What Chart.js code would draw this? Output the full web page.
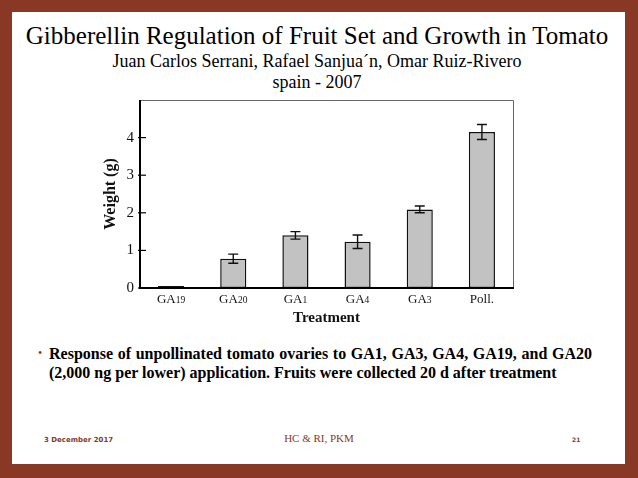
<!DOCTYPE html>
<html>
<head>
<meta charset="utf-8">
<script src="https://cdn.jsdelivr.net/npm/chart.js@4.4.1/dist/chart.umd.min.js"></script>
<style>
  html, body { margin: 0; padding: 0; }
  body { width: 638px; height: 478px; background: #8a3826; position: relative; overflow: hidden; font-family: 'Liberation Serif', serif; }
  .slide { position: absolute; left: 12px; top: 12px; width: 613px; height: 452px; background: #fff; }
  .t { position: absolute; left: 0; width: 634px; text-align: center; color: #000; white-space: nowrap; }
  #chartBox { position: absolute; left: 90px; top: 90px; width: 440px; height: 245px; }
  .bullet { position: absolute; left: 49px; width: 543px; font-weight: bold; font-size: 16px; line-height: 19px; white-space: nowrap; text-align: justify; text-align-last: justify; }
  .foot { position: absolute; color: #8a3826; }
</style>
</head>
<body>
<div class="slide"></div>
<div class="t" style="top:22px;font-size:25px;">Gibberellin Regulation of Fruit Set and Growth in Tomato</div>
<div class="t" style="top:51px;font-size:18px;">Juan Carlos Serrani, Rafael Sanjua´n, Omar Ruiz-Rivero</div>
<div class="t" style="top:72px;font-size:18px;">spain - 2007</div>
<div id="chartBox"><canvas id="c"></canvas></div>
<div style="position:absolute;left:38px;top:346px;font-size:12px;color:#8a3826;">•</div>
<div class="bullet" style="top:344px;">Response of unpollinated tomato ovaries to GA1, GA3, GA4, GA19, and GA20</div>
<div class="bullet" style="top:363px;text-align-last:left;">(2,000 ng per lower) application. Fruits were collected 20 d after treatment</div>
<div class="foot" style="left:44px;top:436px;font-family:'DejaVu Sans';font-weight:bold;font-size:7px;">3 December 2017</div>
<div class="foot" style="left:0;width:638px;text-align:center;top:432px;font-size:11px;">HC &amp; RI, PKM</div>
<div class="foot" style="left:572px;top:436px;font-family:'DejaVu Sans';font-weight:bold;font-size:6px;">21</div>
<script>
const treatments = ['GA', 'GA', 'GA', 'GA', 'GA', 'Poll.'];
const subscripts = ['19', '20', '1', '4', '3', ''];
const weights = [0.05, 0.78, 1.40, 1.23, 2.09, 4.15];
const errors = [0, 0.12, 0.10, 0.18, 0.09, 0.20];
const yTicks = [0, 1, 2, 3, 4];

const frameAndErrors = {
    id: 'frameAndErrors',
    afterDatasetsDraw(chart) {
        const { ctx, chartArea: a, scales: { x, y } } = chart;
        ctx.save();
        // error bars
        ctx.strokeStyle = '#111';
        ctx.lineWidth = 1.4;
        weights.forEach((v, i) => {
            if (!errors[i]) return;
            const cx = x.getPixelForValue(i);
            const top = y.getPixelForValue(v + errors[i]);
            const bot = y.getPixelForValue(v - errors[i]);
            ctx.beginPath();
            ctx.moveTo(cx, top); ctx.lineTo(cx, bot);
            ctx.moveTo(cx - 5, top); ctx.lineTo(cx + 5, top);
            ctx.moveTo(cx - 5, bot); ctx.lineTo(cx + 5, bot);
            ctx.stroke();
        });
        // frame: top/right light, left/bottom dark
        ctx.strokeStyle = '#666';
        ctx.lineWidth = 1;
        ctx.beginPath();
        ctx.moveTo(a.left, a.top + 0.5); ctx.lineTo(a.right + 0.5, a.top + 0.5); ctx.lineTo(a.right + 0.5, a.bottom);
        ctx.stroke();
        ctx.strokeStyle = '#000';
        ctx.lineWidth = 2;
        ctx.beginPath();
        ctx.moveTo(a.left, a.top); ctx.lineTo(a.left, a.bottom); ctx.lineTo(a.right + 1, a.bottom);
        ctx.stroke();
        // inner ticks
        ctx.lineWidth = 1.2;
        yTicks.forEach(t => {
            const py = y.getPixelForValue(t);
            ctx.beginPath();
            ctx.moveTo(a.left - 2, py); ctx.lineTo(a.left + 6, py);
            ctx.stroke();
        });
        // category labels with small digits
        ctx.fillStyle = '#111';
        ctx.textBaseline = 'alphabetic';
        treatments.forEach((lab, i) => {
            const cx = x.getPixelForValue(i);
            ctx.font = '13px "Liberation Serif"';
            const w1 = ctx.measureText(lab).width;
            ctx.font = '9.5px "Liberation Serif"';
            const w2 = ctx.measureText(subscripts[i]).width;
            let sx = cx - (w1 + w2) / 2;
            ctx.font = '13px "Liberation Serif"';
            ctx.fillText(lab, sx, a.bottom + 15);
            ctx.font = '9.5px "Liberation Serif"';
            ctx.fillText(subscripts[i], sx + w1, a.bottom + 15);
        });
        ctx.restore();
    }
};

new Chart(document.getElementById('c'), {
    type: 'bar',
    data: {
        labels: treatments.map((t, i) => t + subscripts[i]),
        datasets: [{
            data: weights,
            backgroundColor: '#c2c2c2',
            borderColor: '#111',
            borderWidth: 1.5,
            borderSkipped: false,
            barPercentage: 0.42,
            categoryPercentage: 1,
        }],
    },
    options: {
        responsive: true,
        maintainAspectRatio: false,
        animation: false,
        layout: { padding: { top: 10, right: 17, left: 0, bottom: 0 } },
        plugins: { legend: { display: false }, tooltip: { enabled: false } },
        scales: {
            x: {
                grid: { display: false, drawTicks: false },
                border: { display: false },
                ticks: { display: false },
                afterFit(s) { s.height = 47; },
                title: {
                    display: true, text: 'Treatment', color: '#111',
                    font: { family: 'Liberation Serif', size: 15, weight: 'bold' },
                    padding: { top: 0, bottom: 8 },
                },
            },
            y: {
                min: 0, max: 5,
                grid: { display: false, drawTicks: false },
                border: { display: false },
                ticks: {
                    stepSize: 1, padding: 6, color: '#111',
                    font: { family: 'Liberation Serif', size: 15 },
                    callback: v => yTicks.includes(v) ? v : '',
                },
                afterFit(s) { s.width = 50; s.paddingTop = 0; s.paddingBottom = 0; },
                title: {
                    display: true, text: 'Weight (g)', color: '#111',
                    font: { family: 'Liberation Serif', size: 16, weight: 'bold' },
                    padding: { top: 11, bottom: 0 },
                },
            },
        },
    },
    plugins: [frameAndErrors],
});
</script>
</body>
</html>
